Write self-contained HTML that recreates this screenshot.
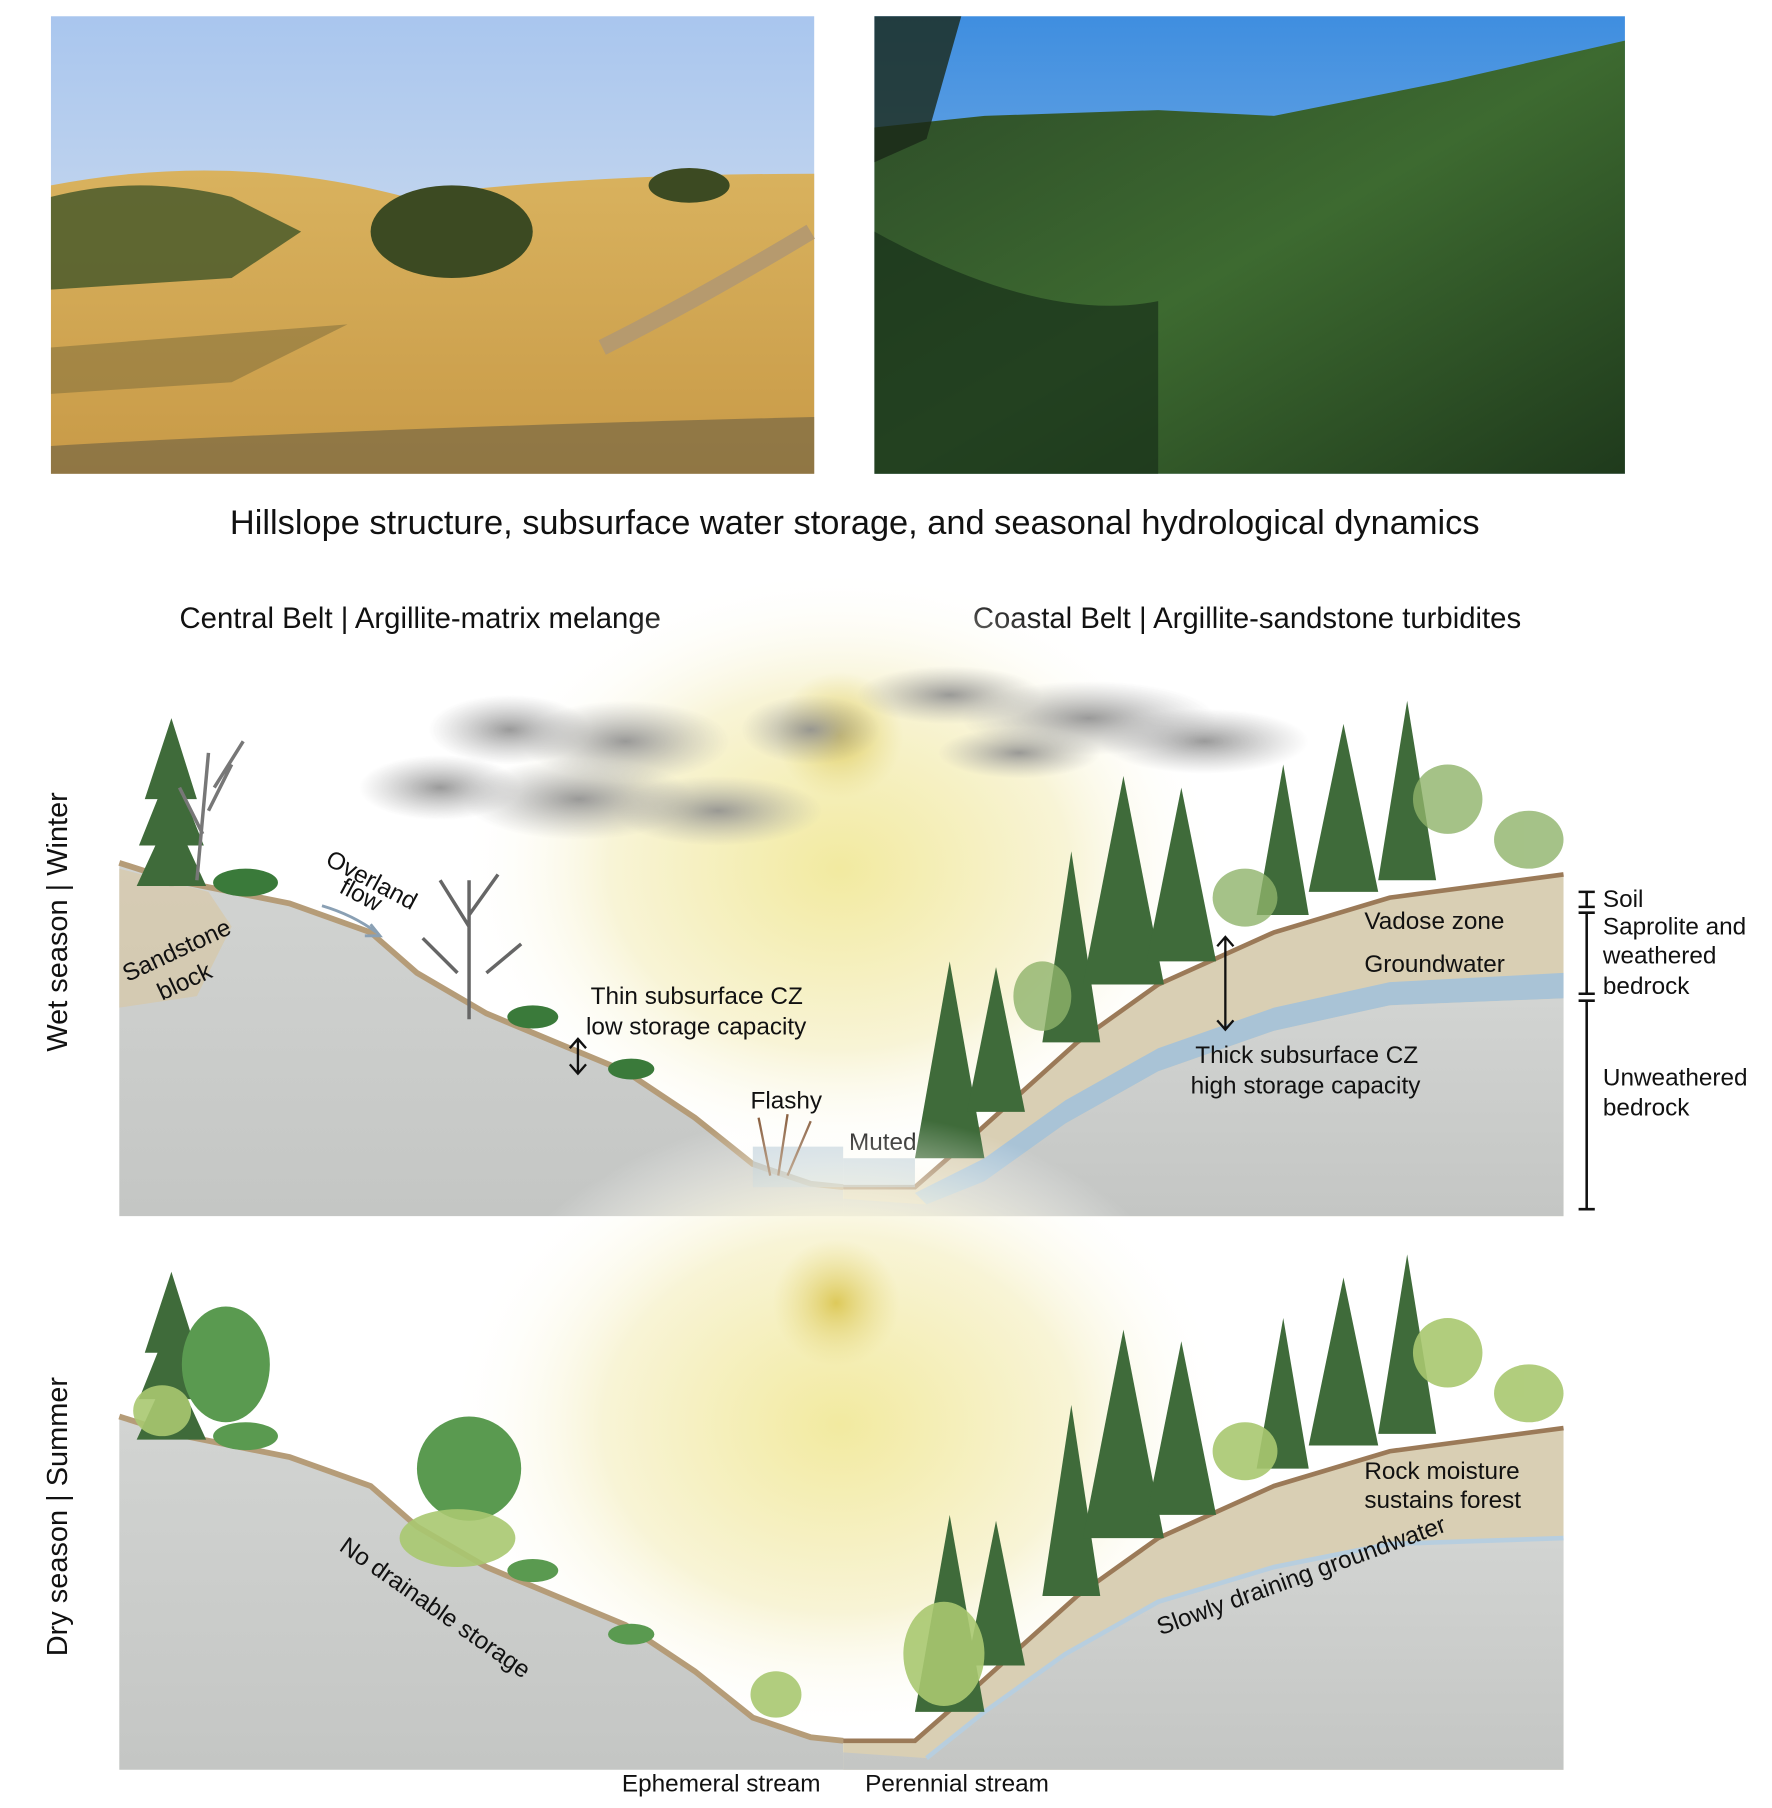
<!DOCTYPE html>
<html><head><meta charset="utf-8"><style>
html,body{margin:0;padding:0;background:#fff}
svg{display:block}
text{font-family:"Liberation Sans",Arial,sans-serif;fill:#111}
</style></head><body>
<svg width="1772" height="1808" viewBox="0 0 1530 1561" xmlns="http://www.w3.org/2000/svg">
<defs>
<linearGradient id="sky1" x1="0" y1="0" x2="0" y2="1"><stop offset="0" stop-color="#a9c6ee"/><stop offset="1" stop-color="#dfe6ee"/></linearGradient>
<linearGradient id="grass" x1="0" y1="0" x2="0" y2="1"><stop offset="0" stop-color="#d9b25e"/><stop offset="1" stop-color="#c89a47"/></linearGradient>
<linearGradient id="sky2" x1="0" y1="0" x2="0" y2="1"><stop offset="0" stop-color="#3f8ee0"/><stop offset="1" stop-color="#9fc4e6"/></linearGradient>
<linearGradient id="forest" x1="0" y1="0" x2="1" y2="1"><stop offset="0" stop-color="#2c4a28"/><stop offset="0.5" stop-color="#3d6a30"/><stop offset="1" stop-color="#1f3a1c"/></linearGradient>
<radialGradient id="glow" cx="0.5" cy="0.5" r="0.5"><stop offset="0" stop-color="#f2eaa0"/><stop offset="0.6" stop-color="#f8f4d6"/><stop offset="1" stop-color="#ffffff" stop-opacity="0"/></radialGradient>
<radialGradient id="sun" cx="0.5" cy="0.5" r="0.5"><stop offset="0" stop-color="#ddc95a"/><stop offset="1" stop-color="#e8dc8a" stop-opacity="0"/></radialGradient>
<linearGradient id="rock" x1="0" y1="0" x2="0" y2="1"><stop offset="0" stop-color="#d2d4d2"/><stop offset="1" stop-color="#c4c6c4"/></linearGradient>
<radialGradient id="cloud" cx="0.5" cy="0.5" r="0.5"><stop offset="0" stop-color="#8f8f8f"/><stop offset="1" stop-color="#a9a9a9" stop-opacity="0"/></radialGradient>
</defs>

<!-- Photo 1 -->
<rect x="44" y="14" width="659" height="395" fill="url(#sky1)"/>
<path d="M44 160 Q200 130 350 170 Q500 150 703 150 L703 409 L44 409Z" fill="url(#grass)"/>
<path d="M44 170 Q120 150 200 170 L260 200 L200 240 L44 250Z" fill="#4a5a2a" opacity="0.85"/>
<ellipse cx="390" cy="200" rx="70" ry="40" fill="#3c4a22"/>
<ellipse cx="595" cy="160" rx="35" ry="15" fill="#3c4a22"/>
<path d="M44 300 L300 280 L200 330 L44 340Z" fill="#7a6a3a" opacity="0.5"/>
<path d="M44 385 Q300 370 703 360 L703 409 L44 409Z" fill="#6a5f42" opacity="0.6"/>
<path d="M520 300 Q600 260 700 200" stroke="#b69a6e" stroke-width="14" fill="none"/>

<!-- Photo 2 -->
<rect x="755" y="14" width="648" height="395" fill="url(#sky2)"/>
<path d="M755 110 L850 100 L1000 95 L1100 100 L1250 70 L1403 35 L1403 409 L755 409Z" fill="url(#forest)"/>
<path d="M755 200 Q900 280 1000 260 L1000 409 L755 409Z" fill="#18301a" opacity="0.7"/>
<path d="M755 14 L830 14 L800 120 L755 140Z" fill="#1a2818" opacity="0.8"/>

<!-- Title -->
<text x="738" y="461" font-size="29.7" text-anchor="middle">Hillslope structure, subsurface water storage, and seasonal hydrological dynamics</text>
<text x="155" y="542" font-size="25.3">Central Belt | Argillite-matrix melange</text>
<text x="840" y="542" font-size="25.3">Coastal Belt | Argillite-sandstone turbidites</text>

<!-- WET PANEL -->
<ellipse cx="725" cy="750" rx="330" ry="260" fill="url(#glow)"/>
<circle cx="725" cy="635" r="55" fill="url(#sun)"/>
<g fill="url(#cloud)" opacity="0.9">
<ellipse cx="440" cy="630" rx="70" ry="30"/><ellipse cx="540" cy="640" rx="90" ry="35"/>
<ellipse cx="380" cy="680" rx="70" ry="28"/><ellipse cx="500" cy="690" rx="100" ry="35"/>
<ellipse cx="620" cy="700" rx="90" ry="30"/><ellipse cx="700" cy="630" rx="60" ry="30"/>
<ellipse cx="820" cy="600" rx="80" ry="25"/><ellipse cx="940" cy="620" rx="110" ry="32"/>
<ellipse cx="1040" cy="640" rx="90" ry="28"/><ellipse cx="880" cy="650" rx="70" ry="22"/>
</g>
<path d="M103 745 L150 760 L250 780 L320 805 L360 840 L420 875 L480 900 L540 925 L600 965 L650 1005 L700 1022 L728 1025 L728 1050 L103 1050Z" fill="url(#rock)"/>
<path d="M103 745 L150 760 L250 780 L320 805 L360 840 L420 875 L480 900 L540 925 L600 965 L650 1005 L700 1022 L728 1025" stroke="#b59c78" stroke-width="5" fill="none"/>
<path d="M103 750 L180 770 L200 800 L170 860 L103 870Z" fill="#d8c6a0" opacity="0.6"/>
<path d="M728 1025 L790 1025 L830 990 L880 945 L930 900 L1000 850 L1100 805 L1200 775 L1350 755 L1350 1050 L728 1050Z" fill="#d9cfb4"/>
<path d="M790 1030 L850 1000 L920 950 L1000 905 L1100 870 L1200 848 L1350 840 L1350 862 L1200 868 L1100 890 L1000 925 L920 970 L850 1020 L800 1040Z" fill="#a9c3d6"/>
<path d="M800 1040 L850 1020 L920 970 L1000 925 L1100 890 L1200 868 L1350 862 L1350 1050 L728 1050 L728 1035Z" fill="url(#rock)"/>
<path d="M728 1025 L790 1025 L830 990 L880 945 L930 900 L1000 850 L1100 805 L1200 775 L1350 755" stroke="#9b7a58" stroke-width="4" fill="none"/>
<rect x="650" y="990" width="78" height="35" fill="#a9bfd0" opacity="0.6"/>
<rect x="728" y="1000" width="62" height="25" fill="#a9bfd0" opacity="0.6"/>
<g>
<rect x="146" y="640" width="4" height="125" fill="#6b4a2a"/>
<path d="M148 620 L125 690 L170 690Z M148 660 L120 730 L176 730Z M148 700 L118 765 L178 765Z" fill="#3f6b3a"/>
<path d="M170 760 L180 650 M180 700 L200 660 M175 720 L155 680 M185 680 L210 640" stroke="#777" stroke-width="3" fill="none"/>
<ellipse cx="212" cy="762" rx="28" ry="12" fill="#3a7a3a"/>
<path d="M405 880 L405 760 M405 800 L380 760 M405 790 L430 755 M395 840 L365 810 M420 840 L450 815" stroke="#666" stroke-width="3" fill="none"/>
<ellipse cx="460" cy="878" rx="22" ry="10" fill="#3a7a3a"/>
<ellipse cx="545" cy="923" rx="20" ry="9" fill="#3a7a3a"/>
<path d="M665 1015 L655 965 M672 1015 L680 962 M680 1015 L700 968" stroke="#8a6040" stroke-width="2" fill="none"/>
</g>
<g fill="#3f6b3a">
<path d="M820 830 L790 1000 L850 1000Z"/><path d="M860 835 L835 960 L885 960Z"/>
<path d="M925 735 L900 900 L950 900Z"/><path d="M970 670 L935 850 L1005 850Z"/>
<path d="M1020 680 L990 830 L1050 830Z"/><path d="M1108 660 L1085 790 L1130 790Z"/>
<path d="M1160 625 L1130 770 L1190 770Z"/><path d="M1215 605 L1190 760 L1240 760Z"/>
</g>
<g fill="#8fb36a" opacity="0.8"><ellipse cx="1075" cy="775" rx="28" ry="25"/><ellipse cx="1320" cy="725" rx="30" ry="25"/><ellipse cx="1250" cy="690" rx="30" ry="30"/><ellipse cx="900" cy="860" rx="25" ry="30"/></g>
<text x="0" y="0" font-size="21" transform="translate(110,848) rotate(-25)">Sandstone</text>
<text x="0" y="0" font-size="21" transform="translate(140,864) rotate(-25)">block</text>
<text x="0" y="0" font-size="21" transform="translate(280,746) rotate(28)">Overland</text>
<text x="0" y="0" font-size="21" transform="translate(292,770) rotate(28)">flow</text>
<path d="M278 782 Q305 790 325 805" stroke="#8aa0b4" stroke-width="2.5" fill="none"/>
<path d="M320 798 L328 808 L315 808" stroke="#8aa0b4" stroke-width="2.5" fill="none"/>
<text x="510" y="867" font-size="21">Thin subsurface CZ</text>
<text x="506" y="893" font-size="21">low storage capacity</text>
<path d="M499 898 L499 926 M492 905 L499 897 L506 905 M492 919 L499 927 L506 919" stroke="#111" stroke-width="2" fill="none"/>
<text x="648" y="957" font-size="21">Flashy</text>
<text x="733" y="993" font-size="21">Muted</text>
<text x="1178" y="802" font-size="21">Vadose zone</text>
<text x="1178" y="839" font-size="21">Groundwater</text>
<path d="M1058 810 L1058 888 M1051 817 L1058 809 L1065 817 M1051 881 L1058 889 L1065 881" stroke="#111" stroke-width="2" fill="none"/>
<text x="1032" y="918" font-size="21">Thick subsurface CZ</text>
<text x="1028" y="944" font-size="21">high storage capacity</text>
<text x="0" y="0" font-size="25" transform="translate(58,908) rotate(-90)">Wet season | Winter</text>
<g stroke="#111" stroke-width="2.2">
<path d="M1370 770 L1370 783 M1363 770 L1377 770 M1363 783 L1377 783"/>
<path d="M1370 788 L1370 858 M1363 788 L1377 788 M1363 858 L1377 858"/>
<path d="M1370 864 L1370 1044 M1363 864 L1377 864 M1363 1044 L1377 1044"/>
</g>
<text x="1384" y="783" font-size="21">Soil</text>
<text x="1384" y="807" font-size="21">Saprolite and</text>
<text x="1384" y="832" font-size="21">weathered</text>
<text x="1384" y="858" font-size="21">bedrock</text>
<text x="1384" y="937" font-size="21">Unweathered</text>
<text x="1384" y="963" font-size="21">bedrock</text>

<!-- DRY PANEL -->
<ellipse cx="725" cy="1230" rx="340" ry="270" fill="url(#glow)"/>
<circle cx="722" cy="1125" r="55" fill="url(#sun)"/>
<g transform="translate(0,478)">
<path d="M103 745 L150 760 L250 780 L320 805 L360 840 L420 875 L480 900 L540 925 L600 965 L650 1005 L700 1022 L728 1025 L728 1050 L103 1050Z" fill="url(#rock)"/>
<path d="M103 745 L150 760 L250 780 L320 805 L360 840 L420 875 L480 900 L540 925 L600 965 L650 1005 L700 1022 L728 1025" stroke="#b59c78" stroke-width="5" fill="none"/>
<path d="M728 1025 L790 1025 L830 990 L880 945 L930 900 L1000 850 L1100 805 L1200 775 L1350 755 L1350 1050 L728 1050Z" fill="#d9cfb4"/>
<path d="M800 1040 L850 1000 L920 950 L1000 905 L1100 875 L1200 855 L1350 850 L1350 1050 L728 1050 L728 1035Z" fill="url(#rock)"/>
<path d="M800 1040 L850 1000 L920 950 L1000 905 L1100 875 L1200 855 L1350 850" stroke="#b7cedf" stroke-width="4" fill="none"/>
<path d="M728 1025 L790 1025 L830 990 L880 945 L930 900 L1000 850 L1100 805 L1200 775 L1350 755" stroke="#9b7a58" stroke-width="4" fill="none"/>
<g fill="#3f6b3a">
<path d="M148 620 L125 690 L170 690Z M148 660 L120 730 L176 730Z M148 700 L118 765 L178 765Z"/>
<path d="M820 830 L790 1000 L850 1000Z"/><path d="M860 835 L835 960 L885 960Z"/>
<path d="M925 735 L900 900 L950 900Z"/><path d="M970 670 L935 850 L1005 850Z"/>
<path d="M1020 680 L990 830 L1050 830Z"/><path d="M1108 660 L1085 790 L1130 790Z"/>
<path d="M1160 625 L1130 770 L1190 770Z"/><path d="M1215 605 L1190 760 L1240 760Z"/>
</g>
<g fill="#5a9a50"><ellipse cx="195" cy="700" rx="38" ry="50"/><ellipse cx="405" cy="790" rx="45" ry="45"/><ellipse cx="212" cy="762" rx="28" ry="12"/><ellipse cx="460" cy="878" rx="22" ry="10"/><ellipse cx="545" cy="933" rx="20" ry="9"/></g>
<g fill="#a9c870" opacity="0.9"><ellipse cx="140" cy="740" rx="25" ry="22"/><ellipse cx="395" cy="850" rx="50" ry="25"/><ellipse cx="670" cy="985" rx="22" ry="20"/><ellipse cx="815" cy="950" rx="35" ry="45"/><ellipse cx="1075" cy="775" rx="28" ry="25"/><ellipse cx="1320" cy="725" rx="30" ry="25"/><ellipse cx="1250" cy="690" rx="30" ry="30"/></g>
</g>
<text x="0" y="0" font-size="21" transform="translate(292,1338) rotate(35)">No drainable storage</text>
<text x="1178" y="1277" font-size="21">Rock moisture</text>
<text x="1178" y="1302" font-size="21">sustains forest</text>
<text x="0" y="0" font-size="21" transform="translate(1002,1412) rotate(-20)">Slowly draining groundwater</text>
<text x="537" y="1547" font-size="21">Ephemeral stream</text>
<text x="747" y="1547" font-size="21">Perennial stream</text>
<text x="0" y="0" font-size="25" transform="translate(58,1430) rotate(-90)">Dry season | Summer</text>
</svg>
</body></html>
